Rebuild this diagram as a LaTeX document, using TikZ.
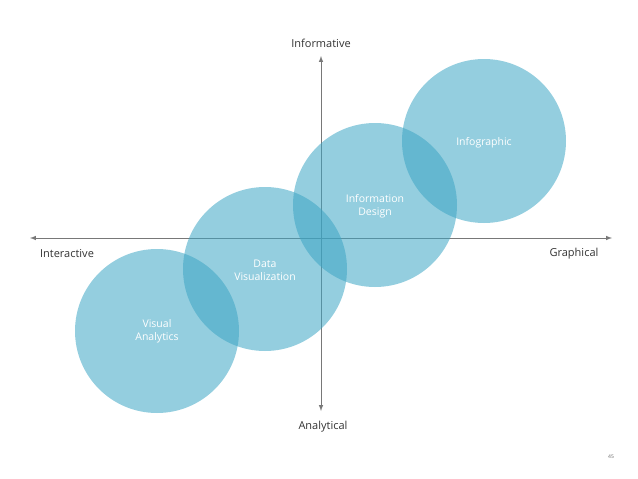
\documentclass[tikz,border=0pt]{standalone}
\usepackage{fontspec}
\setmainfont{Open Sans}
\definecolor{circ}{RGB}{60,165,196}
\definecolor{axisc}{RGB}{120,120,120}
\begin{document}
\begin{tikzpicture}[x=1pt,y=-1pt,
  bubble/.style={circle,minimum size=164pt,fill=circ,fill opacity=0.55,text opacity=1,text=white,font=\fontsize{10.5}{13}\selectfont,align=center,inner sep=0pt},
  ax/.style={axisc,line width=1pt,<->,>=latex},
  lab/.style={font=\fontsize{11}{13}\selectfont,text=black!80}]
\useasboundingbox (0,0) rectangle (638,479);
\coordinate (L) at (30,238); \coordinate (R) at (612,238);
\coordinate (T) at (321,56); \coordinate (B) at (321,411);
\draw[ax] (L) -- (R);
\draw[ax] (T) -- (B);
\node[bubble] (va) at (157,331) {};
\node[bubble] (dv) at (265,269) {};
\node[bubble] (id) at (375,205) {};
\node[bubble] (ig) at (484,141) {};
\node[text=white,align=center,font=\fontsize{10.5}{13}\selectfont] (vat) at (157,331) {Visual\\Analytics};
\node[text=white,align=center,font=\fontsize{10.5}{13}\selectfont] (dvt) at (265,270) {Data\\Visualization};
\node[text=white,align=center,font=\fontsize{10.5}{13}\selectfont] (idt) at (375,206) {Information\\Design};
\node[text=white,align=center,font=\fontsize{10.5}{13}\selectfont] (igt) at (484,143) {Infographic};
\node[lab] (inf) at (321,43) {Informative};
\node[lab] (ana) at (323,427) {Analytical};
\node[lab] (int) at (67,254) {Interactive};
\node[lab] (gra) at (574,254) {Graphical};
\node[font=\fontsize{5}{6}\selectfont,text=black!60] (pg) at (611,457) {45};
\end{tikzpicture}
\end{document}
